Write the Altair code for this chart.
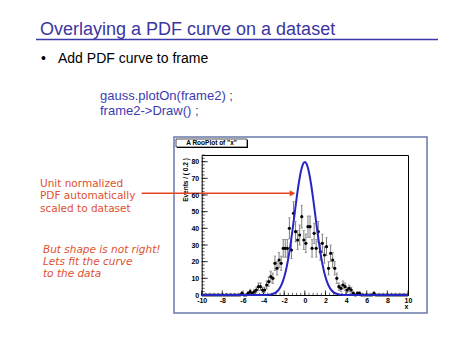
import altair as alt
import pandas as pd

# ---- data ----
bin_width = 0.2
x_start = -9.9
counts = (
    [0] * 19 +
    [1, 0, 0, 1, 2, 1, 2, 3, 5, 5, 3, 3, 6, 8, 11, 10, 19, 16, 21, 19,
     28, 28, 28, 40, 27, 49, 38, 33, 36, 47, 33, 31, 41, 41, 28, 37, 28, 38, 26, 31,
     24, 29, 16, 25, 21, 16, 10, 5, 4, 6, 5, 3, 4, 3, 1, 0, 1, 1, 0] +
    [0, 0, 0, 0, 0, 1] + [0] * 16
)
centers = [round(x_start + bin_width * i, 1) for i in range(len(counts))]

curve_x = [-10, -6, -4.0, -3.8, -3.6, -3.4, -3.2, -3.0, -2.8, -2.6, -2.4, -2.2, -2.0, -1.8, -1.6,
           -1.4, -1.2, -1.0, -0.8, -0.6, -0.4, -0.2, 0.0, 0.2, 0.4, 0.6, 0.8, 1.0, 1.2, 1.4,
           1.6, 1.8, 2.0, 2.2, 2.4, 2.6, 2.8, 3.0, 3.2, 3.4, 3.6, 3.8, 4.0, 6, 10]
curve_y = [0, 0, 0.0, 0.05, 0.1, 0.2, 0.5, 0.9, 1.6, 2.7, 4.5, 7.1, 10.8, 15.8, 22.1,
           29.9, 38.8, 48.4, 58.0, 66.6, 73.6, 78.2, 79.8, 78.2, 73.6, 66.6, 58.0, 48.4, 38.8, 29.9,
           22.1, 15.8, 10.8, 7.1, 4.5, 2.7, 1.6, 0.9, 0.5, 0.2, 0.1, 0.05, 0.0, 0, 0]

x_major = [-10, -8, -6, -4, -2, 0, 2, 4, 6, 8, 10]
y_major = [0, 10, 20, 30, 40, 50, 60, 70, 80]

x_minor = [round(-10 + 0.4 * i, 1) for i in range(51)]
y_minor = [2 * i for i in range(43)]

title_text = "Overlaying a PDF curve on a dataset"
bullet_text = "Add PDF curve to frame"
code_lines = ["gauss.plotOn(frame2) ;", "frame2->Draw() ;"]
note_lines = ["Unit normalized", "PDF automatically", "scaled to dataset"]
italic_lines = ["But shape is not right!", "Lets fit the curve", "to the data"]
frame_title = 'A RooPlot of "x"'
y_title = "Events / ( 0.2 )"

# ---- tables ----
err = [(c ** 0.5) for c in counts]
pts = pd.DataFrame({
    "x": centers,
    "n": counts,
    "lo": [c - e for c, e in zip(counts, err)],
    "hi": [c + e for c, e in zip(counts, err)],
})
bars = pts[pts["n"] > 0]
curve = pd.DataFrame({"x": curve_x, "y": curve_y})
xmaj = pd.DataFrame({"x": x_major})
ymaj = pd.DataFrame({"y": y_major})
xmin_ = pd.DataFrame({"x": x_minor})
ymin_ = pd.DataFrame({"y": y_minor})
one = pd.DataFrame({"a": [0]})

W, H = 206.3, 140
xs = alt.Scale(domain=[-10, 10], nice=False, zero=False)
ys = alt.Scale(domain=[0, 84], nice=False, zero=False)

axis_style = dict(labelFontSize=7, labelFontWeight="bold", labelFont="Liberation Sans",
                  labelColor="black", tickSize=0, domain=False, grid=False, title=None,
                  labelExpr="'' + datum.value", zindex=2, labelOverlap=False,
                  labelFlush=False, labelBound=False)
xaxis = alt.Axis(values=x_major, labelPadding=1.5, **axis_style)
yaxis = alt.Axis(values=y_major, labelPadding=3, **axis_style)


def X(field):
    return alt.X(field, scale=xs, axis=xaxis)


def Y(field):
    return alt.Y(field, scale=ys, axis=yaxis)


def txt(s, x, y, size, color="black", font="Liberation Sans", weight="normal", style="normal",
        align="left", baseline="alphabetic", angle=0):
    return alt.Chart(one).mark_text(
        text=s, fontSize=size, color=color, font=font, fontWeight=weight, fontStyle=style,
        align=align, baseline=baseline, angle=angle
    ).encode(x=alt.value(x), y=alt.value(y))


ox, oy = 201.7, 155  # plot-area origin within the page

layers = []

# canvas border
layers.append(alt.Chart(one).mark_rect(fillOpacity=0, stroke="#6a78aa", strokeWidth=1.5).encode(
    x=alt.value(174 - ox), x2=alt.value(427 - ox), y=alt.value(137 - oy), y2=alt.value(313 - oy)))

# title box with shadow
layers.append(alt.Chart(one).mark_rect(fill="black").encode(
    x=alt.value(177 - ox), x2=alt.value(248 - ox), y=alt.value(140 - oy), y2=alt.value(148 - oy)))
layers.append(alt.Chart(one).mark_rect(fill="white", stroke="black", strokeWidth=0.7).encode(
    x=alt.value(176 - ox), x2=alt.value(247 - ox), y=alt.value(139 - oy), y2=alt.value(147 - oy)))
layers.append(txt(frame_title, 211.5 - ox, 143.2 - oy, 6.5, weight="bold", align="center", baseline="middle"))

# inward ticks
layers.append(alt.Chart(xmaj).mark_rule(color="black", strokeWidth=0.8).encode(
    x=X("x:Q"), y=alt.value(H), y2=alt.value(H - 4.5)))
layers.append(alt.Chart(xmin_).mark_rule(color="black", strokeWidth=0.6).encode(
    x=X("x:Q"), y=alt.value(H), y2=alt.value(H - 2.2)))
layers.append(alt.Chart(ymaj).mark_rule(color="black", strokeWidth=0.8).encode(
    y=Y("y:Q"), x=alt.value(0), x2=alt.value(6)))
layers.append(alt.Chart(ymin_).mark_rule(color="black", strokeWidth=0.6).encode(
    y=Y("y:Q"), x=alt.value(0), x2=alt.value(3)))

# error bars
layers.append(alt.Chart(bars).mark_rule(color="#6e6e6e", strokeWidth=0.9).encode(
    x=X("x:Q"), y=Y("lo:Q"), y2="hi:Q"))
layers.append(alt.Chart(bars).mark_tick(color="#6e6e6e", thickness=0.8, size=2.5, orient="horizontal").encode(
    x=X("x:Q"), y=Y("hi:Q")))
layers.append(alt.Chart(bars).mark_tick(color="#6e6e6e", thickness=0.8, size=2.5, orient="horizontal").encode(
    x=X("x:Q"), y=Y("lo:Q")))

# data points
layers.append(alt.Chart(pts).mark_circle(color="black", size=10, opacity=1).encode(
    x=X("x:Q"), y=Y("n:Q")))

# pdf curve
layers.append(alt.Chart(curve).mark_line(color="#2626c4", strokeWidth=2, interpolate="monotone").encode(
    x=X("x:Q"), y=Y("y:Q")))

# axis titles
layers.append(txt(y_title, 185.5 - ox, 180 - oy, 6.5, weight="bold", align="center", baseline="middle", angle=270))
layers.append(txt("x", 406.5 - ox, 307 - oy, 7, weight="bold", align="center", baseline="middle"))

# slide texts
layers.append(alt.Chart(one).mark_rule(color="#3a3aa8", strokeWidth=1.5).encode(
    x=alt.value(36 - ox), x2=alt.value(438 - ox), y=alt.value(39.5 - oy)))
layers.append(txt(title_text, 40 - ox, 35 - oy, 18, color="#3b36a0"))
layers.append(txt("\u2022", 41 - ox, 63 - oy, 14))
layers.append(txt(bullet_text, 58 - ox, 63 - oy, 14))
for i, s in enumerate(code_lines):
    layers.append(txt(s, 100 - ox, 100 - oy + 15 * i, 13, color="#3c3cb0"))
for i, s in enumerate(note_lines):
    layers.append(txt(s, 40 - ox, 187 - oy + 12.3 * i, 10.5, color="#e05030", font="DejaVu Sans"))
for i, s in enumerate(italic_lines):
    layers.append(txt(s, 43 - ox, 253 - oy + 12 * i, 10.5, color="#e05030", font="DejaVu Sans", style="italic"))

# arrow
layers.append(alt.Chart(one).mark_rule(color="#e8441e", strokeWidth=1.6).encode(
    x=alt.value(141.7 - ox), x2=alt.value(291 - ox), y=alt.value(193.3 - oy)))
layers.append(alt.Chart(one).mark_point(shape="triangle-right", filled=True, color="#e8441e", size=40, opacity=1).encode(
    x=alt.value(292.5 - ox), y=alt.value(193.3 - oy)))

chart = alt.layer(*layers).properties(
    width=W, height=H,
    padding={"left": ox, "top": oy, "right": 474 - ox - W, "bottom": 355 - oy - H},
    autosize=alt.AutoSizeParams(type="none"),
    background="white",
).configure_view(stroke="black", strokeWidth=1)

chart.save("out.html", embed_options={"renderer": "svg", "actions": False})
